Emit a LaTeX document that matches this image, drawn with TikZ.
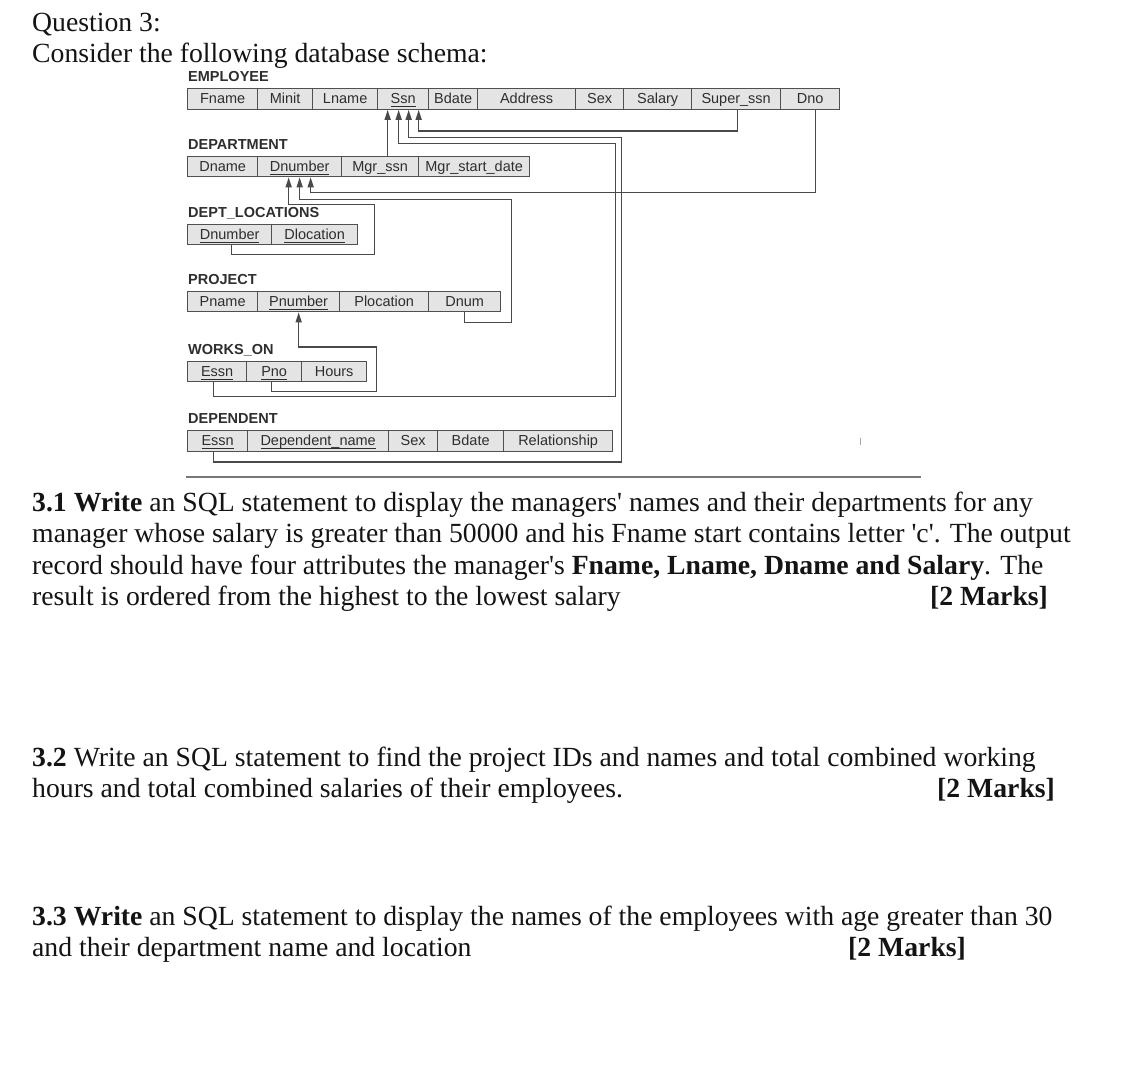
\documentclass[tikz,border=0pt]{standalone}
\usepackage{fontspec}
\setmainfont{Liberation Serif}[Ligatures=TeXOff]
\newfontfamily\diagfont{Liberation Sans}
\usetikzlibrary{arrows.meta}
\definecolor{cellfill}{HTML}{E4E4E4}
\definecolor{cellline}{HTML}{505050}
\definecolor{celltext}{HTML}{2E2E2E}
\definecolor{fkline}{HTML}{4A4A4A}
\definecolor{rulecol}{HTML}{777777}
\newcommand\keyul[1]{\setbox0\hbox{#1}\rlap{\rule[-3.2pt]{\wd0}{1pt}}\box0}
\tikzset{
  cell/.style={draw=cellline, fill=cellfill, line width=1.3pt, anchor=north west,
    minimum height=20.5pt, inner sep=0pt, text height=12pt, text depth=2pt,
    font=\diagfont\fontsize{14.5}{16}\selectfont, text=celltext},
  tlabel/.style={anchor=base west, inner sep=0pt, text=celltext,
    font=\diagfont\bfseries\fontsize{14.5}{16}\selectfont},
  fk/.style={draw=fkline, line width=1.4pt, -{Triangle[length=10pt,width=6pt]}},
  body/.style={anchor=base west, inner sep=0pt, font=\fontsize{27.7}{32}\selectfont, text=black!92}
}
\begin{document}
\begin{tikzpicture}[x=1pt,y=-1pt]
\useasboundingbox (0,0) rectangle (1145,1080);
\fill[white] (0,0) rectangle (1145,1080);

% ---------- heading text ----------
\node[body] (q3) at (32,31) {Question 3:};
\node[body] (cons) at (32,62.5) {Consider the following database schema:};

% ---------- table labels ----------
\node[tlabel] (lab-emp) at (188,81.5) {EMPLOYEE};
\node[tlabel] (lab-dep) at (188,149) {DEPARTMENT};
\node[tlabel] (lab-loc) at (188,217) {DEPT\_LOCATIONS};
\node[tlabel] (lab-prj) at (188,284) {PROJECT};
\node[tlabel] (lab-wo)  at (188,354) {WORKS\_ON};
\node[tlabel] (lab-dpn) at (188,423.5) {DEPENDENT};

% ---------- EMPLOYEE ----------
\foreach \n/\x/\w/\t in {e-fname/187/70/Fname, e-minit/257/55/Minit, e-lname/312/65/Lname,
  e-ssn/377/51/{\keyul{Ssn}}, e-bdate/428/49/Bdate, e-addr/477/98/Address, e-sex/575/48/Sex,
  e-salary/623/68/Salary, e-super/691/89/{Super\_ssn}, e-dno/780/59/Dno}
  \node[cell, minimum width=\w] (\n) at (\x,88) {\t};

% ---------- DEPARTMENT ----------
\foreach \n/\x/\w/\t in {d-dname/187/70/Dname, d-dnum/257/84/{\keyul{Dnumber}},
  d-mgr/341/77/{Mgr\_ssn}, d-start/418/111/{Mgr\_start\_date}}
  \node[cell, minimum width=\w] (\n) at (\x,155.5) {\t};

% ---------- DEPT_LOCATIONS ----------
\foreach \n/\x/\w/\t in {l-dnum/187/84/{\keyul{Dnumber}}, l-dloc/271/86/{\keyul{Dlocation}}}
  \node[cell, minimum width=\w] (\n) at (\x,223.5) {\t};

% ---------- PROJECT ----------
\foreach \n/\x/\w/\t in {p-pname/187/70/Pname, p-pnum/257/82/{\keyul{Pnumber}},
  p-ploc/339/89/Plocation, p-dnum/428/72/Dnum}
  \node[cell, minimum width=\w] (\n) at (\x,290.5) {\t};

% ---------- WORKS_ON ----------
\foreach \n/\x/\w/\t in {w-essn/187/59/{\keyul{Essn}}, w-pno/246/55/{\keyul{Pno}}, w-hours/301/65/Hours}
  \node[cell, minimum width=\w] (\n) at (\x,360.5) {\t};

% ---------- DEPENDENT ----------
\foreach \n/\x/\w/\t in {dep-essn/187/60/{\keyul{Essn}}, dep-name/247/141/{\keyul{Dependent\_name}},
  dep-sex/388/49/Sex, dep-bdate/437/66/Bdate, dep-rel/503/109/Relationship}
  \node[cell, minimum width=\w] (\n) at (\x,430) {\t};

% ---------- arrow end points ----------
\coordinate (sa) at ([xshift=-15.5pt]e-ssn.south);
\coordinate (sb) at ([xshift=-4.5pt]e-ssn.south);
\coordinate (sc) at ([xshift=5.5pt]e-ssn.south);
\coordinate (sd) at ([xshift=15.5pt]e-ssn.south);
\coordinate (da) at ([xshift=-11pt]d-dnum.south);
\coordinate (db) at (d-dnum.south);
\coordinate (dc) at ([xshift=11pt]d-dnum.south);

% ---------- foreign keys ----------
\draw[fk] (sa |- d-mgr.north) -- (sa);
\draw[fk] ([xshift=1.5pt]e-super.south) -- ++(0,21) -| (sd);
\draw[fk] ([xshift=-3.5pt]w-essn.south) -- ++(0,14) -- ++(402,0) |- ([yshift=-33.5pt]sb) -- (sb);
\draw[fk] ([xshift=-4pt]dep-essn.south) -- ++(0,10) -- ++(408,0) |- ([yshift=-27.5pt]sc) -- (sc);
\draw[fk] ([xshift=5.5pt]e-dno.south) -- ++(0,82.5) -| (dc);
\draw[fk] (p-dnum.south) -- ++(0,10) -- ++(47,0) |- ([yshift=-22pt]db) -- (db);
\draw[fk] ([xshift=2pt]l-dnum.south) -- ++(0,9) -- ++(143,0) |- ([yshift=-27pt]da) -- (da);
\draw[fk] ([xshift=-2.5pt]w-pno.south) -- ++(0,9) -- ++(105,0) |- ([yshift=-34.5pt]p-pnum.south) -- (p-pnum.south);

% ---------- rule and mark ----------
\draw[rulecol, line width=2pt] (186,477) -- (921,477);
\draw[black!35, line width=1pt] (860.5,438) -- (860.5,445);

% ---------- questions ----------
\node[body] (q31a) at (32,511) {\textbf{3.1 Write} an SQL statement to display the managers' names and their departments for any};
\node[body] (q31b) at (32,542.5) {manager whose salary is greater than 50000 and his Fname start contains letter 'c'. The output};
\node[body] (q31c) at (32,574) {record should have four attributes the manager's \textbf{Fname, Lname, Dname and Salary}. The};
\node[body] (q31d) at (32,605.5) {result is ordered from the highest to the lowest salary};
\node[body] (m31) at (930,605.5) {\textbf{[2 Marks]}};

\node[body] (q32a) at (32,766) {\textbf{3.2} Write an SQL statement to find the project IDs and names and total combined working};
\node[body] (q32b) at (32,797.5) {hours and total combined salaries of their employees.};
\node[body] (m32) at (937,797.5) {\textbf{[2 Marks]}};

\node[body] (q33a) at (32,925) {\textbf{3.3 Write} an SQL statement to display the names of the employees with age greater than 30};
\node[body] (q33b) at (32,956.5) {and their department name and location};
\node[body] (m33) at (848,956.5) {\textbf{[2 Marks]}};
\end{tikzpicture}
\end{document}
